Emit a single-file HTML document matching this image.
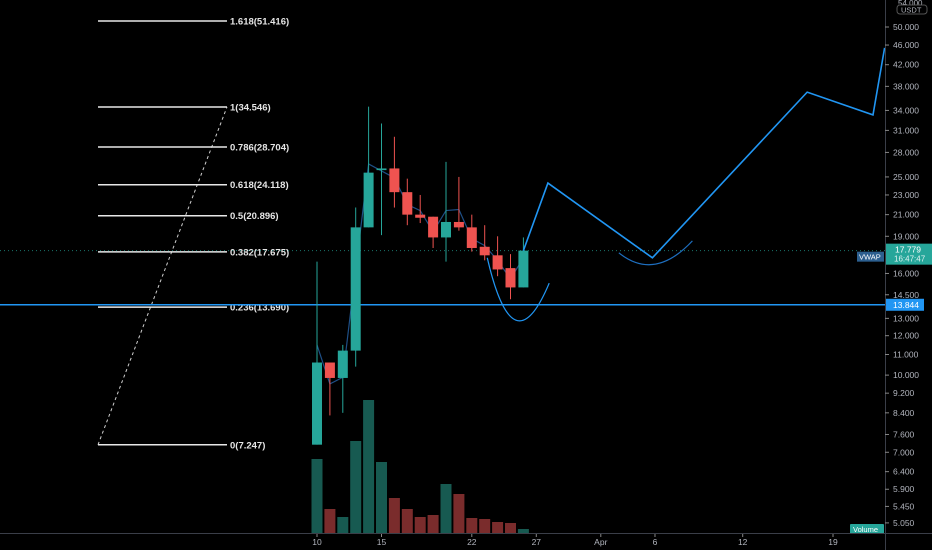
<!DOCTYPE html>
<html><head><meta charset="utf-8">
<style>
html,body{margin:0;padding:0;background:#000;}
svg{display:block;font-family:"Liberation Sans",sans-serif;}
</style></head>
<body>
<svg id="chart" width="932" height="550" viewBox="0 0 932 550" xmlns="http://www.w3.org/2000/svg">
<rect x="0" y="0" width="932" height="550" fill="#000"/>
<g id="fib"></g>
<g id="vol"></g>
<g id="hlines"></g>
<g id="vwap"></g>
<g id="candles"></g>
<g id="proj"></g>
<g id="yaxis"></g>
<g id="xaxis"></g>
</svg>
<script>
// ---- data ----
const days = [10,11,12,13,14,15,16,17,18,19,20,21,22,23,24,25,26];
const opens  = [7.25,10.6,9.87,11.2,19.8,25.8,26.0,23.3,21.0,20.8,18.9,20.3,19.8,18.1,17.4,16.4,15.0];
const highs  = [16.9,10.6,11.5,21.7,34.6,32.0,30.1,24.8,23.0,20.8,26.8,25.0,21.0,20.0,19.0,17.5,18.9];
const lows   = [7.25,8.3,8.4,10.4,19.8,19.1,21.7,20.0,20.2,18.0,16.9,19.5,17.7,17.0,15.8,14.2,15.0];
const closes = [10.6,9.87,11.2,19.8,25.5,26.0,23.3,21.0,20.7,18.9,20.3,19.8,18.0,17.4,16.3,15.0,17.78];
const volumes = [74,24,16,92,133,71,35,24,16,18,49,39,15,14,11,10,4];
const vwapValues = [11.5,9.6,9.9,16.3,26.55,25.7,24.9,22.0,21.4,19.4,21.4,21.5,18.8,18.2,17.0,15.6,17.2];
const fibRatios = ["1.618","1","0.786","0.618","0.5","0.382","0.236","0"];
const fibPrices = [51.416,34.546,28.704,24.118,20.896,17.675,13.690,7.247];
const priceTicks = [50,46,42,38,34,31,28,25,23,21,19,16,14.5,13,12,11,10,9.2,8.4,7.6,7,6.4,5.9,5.45,5.05];
const dateTickDays = [10,15,22,27,32,36.2,43,50];
const dateTickLabels = ["10","15","22","27","Apr","6","12","19"];
const projDays = [26,27.9,36,48,53.1,54];
const projPrices = [17.78,24.3,17.2,37.0,33.3,45.4];
const arc1Days = [23.2,25.4,28];
const arc1Prices = [17.2,12.9,15.3];
const arc2Days = [33.4,36.2,39.1];
const arc2Prices = [17.6,16.7,18.6];
const supportPrice = 13.844;
const lastPrice = 17.779;

// ---- scales ----
const plotRight = 885;
function y(p){ return 27 + (Math.log(50) - Math.log(p)) * 216.3; }
function x(d){ return 317 + (d - 10) * 12.9; }
const volBase = 533, volScale = 1.0;
const NS = "http://www.w3.org/2000/svg";
function mk(parent, tag, attrs, text){
  const e = document.createElementNS(NS, tag);
  for (const k in attrs) e.setAttribute(k, attrs[k]);
  if (text !== undefined) e.textContent = text;
  parent.appendChild(e); return e;
}
const green = "#26a69a", red = "#ef5350";

// fib
const fib = document.getElementById('fib');
const fx0 = 98, fx1 = 227;
let l = mk(fib,'line',{x1:fx0,y1:y(fibPrices[7]),x2:fx1,y2:y(fibPrices[1]),stroke:"#cfcfcf","stroke-width":1,"stroke-dasharray":"3,3"});


fibPrices.forEach((p,i)=>{
  const ln = mk(fib,'line',{x1:fx0,y1:y(p),x2:fx1,y2:y(p),stroke:"#e8e8e8","stroke-width":1.5});
  
  
  const t = mk(fib,'text',{x:230,y:y(p)+3.5,fill:"#e6e6e6","font-size":9.5,"font-weight":"bold"}, fibRatios[i]+"("+p.toFixed(3)+")");
  
  
});

// volume
const vol = document.getElementById('vol');
volumes.forEach((v,i)=>{
  const up = closes[i] >= opens[i];
  const r = mk(vol,'rect',{x:x(days[i])-5.5,y:volBase - v*volScale,width:11,height:v*volScale,fill: up ? "#175a51" : "#7a2c2c"});
  
  
});

// horizontal lines
const hl = document.getElementById('hlines');
let h1 = mk(hl,'line',{x1:0,y1:y(lastPrice),x2:plotRight,y2:y(lastPrice),stroke:"#26a69a","stroke-width":1,"stroke-dasharray":"1,3",opacity:0.7});


let h2 = mk(hl,'line',{x1:0,y1:y(supportPrice),x2:plotRight,y2:y(supportPrice),stroke:"#2196f3","stroke-width":1.5});



// vwap
const vw = document.getElementById('vwap');
let vp = mk(vw,'polyline',{points:vwapValues.map((v,i)=>x(days[i])+","+y(v)).join(" "),fill:"none",stroke:"#1e4f86","stroke-width":1.2});



// candles
const cg = document.getElementById('candles');
days.forEach((d,i)=>{
  const up = closes[i] >= opens[i], c = up ? green : red;
  const cx = x(d);
  const w = mk(cg,'line',{x1:cx,y1:y(highs[i]),x2:cx,y2:y(lows[i]),stroke:c,"stroke-width":1});
  
  
  const top = y(Math.max(opens[i],closes[i])), bot = y(Math.min(opens[i],closes[i]));
  const b = mk(cg,'rect',{x:cx-5,y:top,width:10,height:Math.max(1.5,bot-top),fill:c});
  
  
});

// projection
const pg = document.getElementById('proj');
let pp = mk(pg,'polyline',{points:projDays.map((d,i)=>x(d)+","+y(projPrices[i])).join(" "),fill:"none",stroke:"#2196f3","stroke-width":1.6});


function arc(ds,ps,name){
  const x0=x(ds[0]),y0=y(ps[0]),xm=x(ds[1]),ym=y(ps[1]),x2=x(ds[2]),y2=y(ps[2]);
  const cxp=2*xm-(x0+x2)/2, cyp=2*ym-(y0+y2)/2;
  const a = mk(pg,'path',{d:`M${x0},${y0} Q${cxp},${cyp} ${x2},${y2}`,fill:"none",stroke:name==='arc-1'?"#2196f3":"#1e6fc0","stroke-width":1.2});
  
  
}
arc(arc1Days,arc1Prices,'arc-1');
arc(arc2Days,arc2Prices,'arc-2');

// y axis
const ya = document.getElementById('yaxis');
let ax = mk(ya,'line',{x1:plotRight+0.5,y1:0,x2:plotRight+0.5,y2:550,stroke:"#3a3e48","stroke-width":1});


priceTicks.forEach(p=>{
  const tk = mk(ya,'line',{x1:plotRight,y1:y(p),x2:plotRight+4,y2:y(p),stroke:"#888"});
  
  
  const t = mk(ya,'text',{x:893,y:y(p)+3,fill:"#b2b5be","font-size":8.5}, p.toFixed(3));
  
  
});
let t0 = mk(ya,'text',{x:898,y:6,fill:"#b2b5be","font-size":8}, "54.000");


let ub = mk(ya,'rect',{x:897,y:5,width:30,height:9,rx:3,fill:"#000",stroke:"#555"});


let ut = mk(ya,'text',{x:901,y:12.5,fill:"#b2b5be","font-size":7.5}, "USDT");


let lb = mk(ya,'rect',{x:886,y:y(lastPrice)-7,width:46,height:21,fill:"#26a69a"});


let lt = mk(ya,'text',{x:895,y:y(lastPrice)+2,fill:"#fff","font-size":8.5}, lastPrice.toFixed(3));


let ct = mk(ya,'text',{x:894,y:y(lastPrice)+11,fill:"#e0f2f1","font-size":8}, "16:47:47");


let vb = mk(ya,'rect',{x:857,y:y(lastPrice)+1,width:27,height:10,fill:"#2c5f8f"});


let vt = mk(ya,'text',{x:859,y:y(lastPrice)+9,fill:"#fff","font-size":7.5}, "VWAP");


let sb = mk(ya,'rect',{x:886,y:y(supportPrice)-6,width:38,height:12,fill:"#2196f3"});


let st = mk(ya,'text',{x:893,y:y(supportPrice)+3,fill:"#fff","font-size":8.5}, supportPrice.toFixed(3));


let volb = mk(ya,'rect',{x:850,y:524,width:34,height:10,rx:1,fill:"#26a69a"});


let volt = mk(ya,'text',{x:853,y:532,fill:"#fff","font-size":7.5}, "Volume");



// x axis
const xa = document.getElementById('xaxis');
let xl = mk(xa,'line',{x1:0,y1:533.5,x2:932,y2:533.5,stroke:"#3a3e48"});


dateTickDays.forEach((d,i)=>{
  const tk = mk(xa,'line',{x1:x(d),y1:534,x2:x(d),y2:537,stroke:"#888"});
  
  
  const t = mk(xa,'text',{x:x(d),y:545,fill:"#b2b5be","font-size":8.5,"text-anchor":"middle"}, dateTickLabels[i]);
  
  
});
</script>
</body></html>
